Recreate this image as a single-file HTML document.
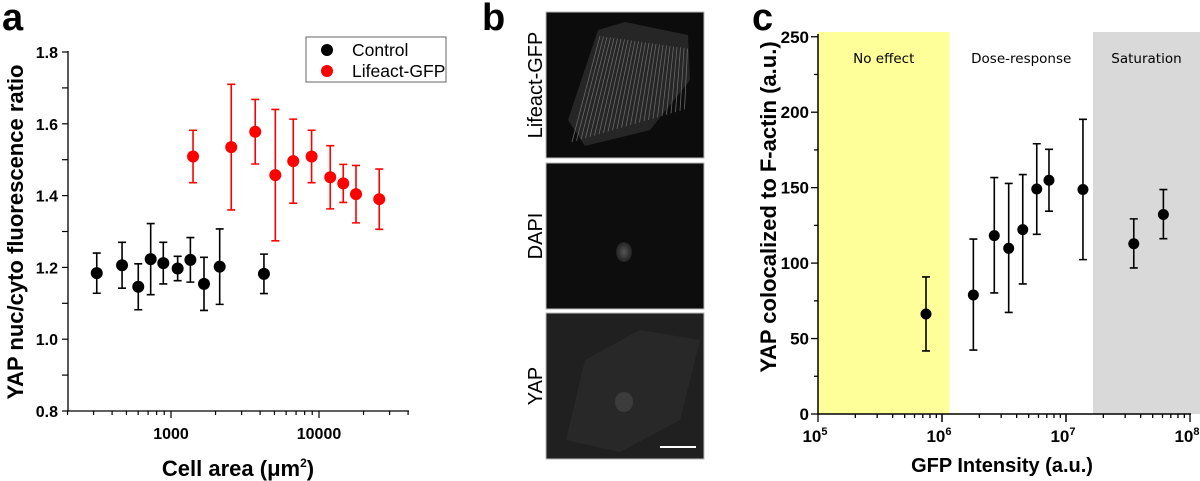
<!DOCTYPE html>
<html><head><meta charset="utf-8"><style>
body{margin:0;background:#fff;width:1200px;height:481px;overflow:hidden}
svg{display:block;font-family:"Liberation Sans",sans-serif}
</style></head><body>
<svg id="fig" width="1200" height="481">
<text x="2" y="30" font-size="38" font-weight="bold">a</text>
<text x="482" y="30" font-size="38" font-weight="bold">b</text>
<text x="752" y="30" font-size="38" font-weight="bold">c</text>
<g id="pa"></g>
<g id="pb">
 <defs><radialGradient id="nuc"><stop offset="0" stop-color="#555"/><stop offset="1" stop-color="#222"/></radialGradient></defs>
 <rect x="546" y="12" width="158" height="146" fill="#0c0c0c" stroke="#bbb"/>
 <polygon points="568,120 598,30 625,22 688,35 690,80 650,130 585,146" fill="#262626"/>
 <g id="fibers" stroke="#6a6a6a" stroke-width="0.8"></g>
 <rect x="546" y="163" width="158" height="146" fill="#0d0d0d" stroke="#bbb"/>
 <ellipse cx="624" cy="252" rx="8" ry="10" fill="url(#nuc)"/>
 <rect x="546" y="313" width="158" height="146" fill="#202020" stroke="#bbb"/>
 <polygon points="566,440 585,360 640,330 700,340 680,420 620,452" fill="#282828"/>
 <ellipse cx="624" cy="402" rx="9" ry="10" fill="#3c3c3c"/>
 <line x1="660" y1="447" x2="696" y2="447" stroke="#fff" stroke-width="2"/>
 <text transform="translate(542,85) rotate(-90)" text-anchor="middle" font-size="20">Lifeact-GFP</text>
 <text transform="translate(542,236) rotate(-90)" text-anchor="middle" font-size="20">DAPI</text>
 <text transform="translate(542,386) rotate(-90)" text-anchor="middle" font-size="20">YAP</text>
</g>
<g id="pc"></g>
</svg>
<script>
// Panel a data
const ctrlX=[315,467,601,729,887,1109,1352,1671,2133,4246];
const ctrlY=[1.184,1.206,1.146,1.223,1.212,1.197,1.221,1.154,1.202,1.182];
const ctrlErr=[0.056,0.064,0.064,0.099,0.058,0.034,0.062,0.074,0.105,0.055];
const lifeX=[1409,2553,3707,5069,6699,8913,11912,14584,17783,25527];
const lifeY=[1.509,1.535,1.578,1.457,1.496,1.509,1.451,1.434,1.404,1.390];
const lifeErr=[0.073,0.175,0.090,0.183,0.117,0.073,0.088,0.053,0.080,0.084];
const aYTicks=[0.8,1.0,1.2,1.4,1.6,1.8];
const aXTicks=[1000,10000];
// Panel c data
const gfpX=[7.43e5,1.79e6,2.64e6,3.45e6,4.48e6,5.81e6,7.29e6,1.37e7,3.52e7,6.1e7];
const yapY=[66.3,78.9,118.2,109.8,122.2,149.1,154.9,148.8,112.8,132.2];
const yapUp=[24.5,37,38.5,43,36.5,30,20.5,46.5,16.5,16.5];
const yapDn=[24.5,36.5,38,42.5,36,30,20.5,46.5,16,16];
const cYTicks=[0,50,100,150,200,250];
const cXExp=[5,6,7,8];
const regionEdges=[1e5,1.15e6,1.65e7,1.3e8];

const NS='http://www.w3.org/2000/svg';
function mk(p,t,a,txt){const e=document.createElementNS(NS,t);for(const k in a)e.setAttribute(k,a[k]);if(txt!==undefined)e.textContent=txt;p.appendChild(e);return e;}

// fibers (decoration)
const fb=document.getElementById('fibers');
for(let i=0;i<26;i++){const l=mk(fb,'line',{x1:572+i*4.5,y1:142-i*1.3,x2:600+i*3.5,y2:36+i*0.5});

}

// Panel a
const pa=document.getElementById('pa');
const ax=v=>171+(Math.log10(v)-3)*148;
const ay=v=>411-(v-0.8)*359;
mk(pa,'line',{x1:68,y1:ay(1.8)-1,x2:68,y2:411,stroke:'#000','stroke-width':1.3});
mk(pa,'line',{x1:68,y1:411,x2:409,y2:411,stroke:'#000','stroke-width':1.3});
for(let v=0.8;v<=1.801;v+=0.1){mk(pa,'line',{x1:62,y1:ay(v),x2:68,y2:ay(v),stroke:'#000','stroke-width':1.2});}
aYTicks.forEach(v=>{const t=mk(pa,'text',{x:58,y:ay(v)+6,'text-anchor':'end','font-size':16,'font-weight':'bold'},v.toFixed(1));

});
for(let d=2;d<=4;d++)for(let m=1;m<10;m++){const v=m*Math.pow(10,d);const x=ax(v);if(x<67||x>410)continue;
mk(pa,'line',{x1:x,y1:411,x2:x,y2:m==1?418:415,stroke:'#000','stroke-width':1.2});}
aXTicks.forEach(v=>{const t=mk(pa,'text',{x:ax(v),y:439,'text-anchor':'middle','font-size':16,'font-weight':'bold'},String(v));

});
const at=mk(pa,'text',{x:238,y:476,'text-anchor':'middle','font-size':22,'font-weight':'bold'});
at.innerHTML='Cell area (<tspan>μ</tspan>m<tspan dy="-9" font-size="12">2</tspan><tspan dy="9">)</tspan>';


const ayt=mk(pa,'text',{transform:'translate(23,232) rotate(-90)','text-anchor':'middle','font-size':22,'font-weight':'bold'},'YAP nuc/cyto fluorescence ratio');


function series(g,xs,ys,up,dn,col,fx,fy,nm,r,cap){xs.forEach((x,i)=>{const cx=fx(x),cy=fy(ys[i]),y1=fy(ys[i]+up[i]),y2=fy(ys[i]-dn[i]);
const e=mk(g,'path',{d:`M${cx},${y1}V${y2}M${cx-cap},${y1}H${cx+cap}M${cx-cap},${y2}H${cx+cap}`,stroke:col,'stroke-width':1.6,fill:'none'});


const c=mk(g,'circle',{cx:cx,cy:cy,r:r,fill:col});

});}
series(pa,ctrlX,ctrlY,ctrlErr,ctrlErr,'#000',ax,ay,'control',6,4);
series(pa,lifeX,lifeY,lifeErr,lifeErr,'#f00',ax,ay,'lifeact',6,4);
const lg=mk(pa,'g',{});


mk(lg,'rect',{x:306,y:37,width:140,height:45,fill:'#fff',stroke:'#666'});
mk(lg,'circle',{cx:327,cy:50,r:6,fill:'#000'});
mk(lg,'circle',{cx:327,cy:71,r:6,fill:'#f00'});
mk(lg,'text',{x:352,y:56,'font-size':17.5},'Control');
mk(lg,'text',{x:352,y:77,'font-size':17.5},'Lifeact-GFP');

// Panel c
const pc=document.getElementById('pc');
const cx_=v=>818+(Math.log10(v)-5)*124;
const cy_=v=>414-v*1.509;
const regCol=['#ffff99','#ffffff','#d9d9d9'];
const regNames=['No effect','Dose-response','Saturation'];
const regNm=['no-effect-region','dose-response-region','saturation-region'];
regCol.forEach((c,i)=>{const x1=cx_(regionEdges[i]),x2=Math.min(1200,cx_(regionEdges[i+1]));
const r=mk(pc,'rect',{x:x1,y:32,width:x2-x1,height:414-32,fill:c});


const t=mk(pc,'text',{x:(x1+x2)/2,y:63,'text-anchor':'middle','font-size':13.5,'font-family':'DejaVu Sans'},regNames[i]);

});
mk(pc,'line',{x1:818,y1:34,x2:818,y2:414,stroke:'#000','stroke-width':1.5});
mk(pc,'line',{x1:818,y1:414,x2:1191,y2:414,stroke:'#000','stroke-width':1.5});
for(let v=0;v<=250;v+=25)mk(pc,'line',{x1:v%50?814:811,y1:cy_(v),x2:818,y2:cy_(v),stroke:'#000','stroke-width':1.3});
cYTicks.forEach(v=>{const t=mk(pc,'text',{x:809,y:cy_(v)+6,'text-anchor':'end','font-size':17,'font-weight':'bold'},String(v));

});
for(let d=5;d<8;d++)for(let m=1;m<=10;m++){const x=cx_(m*Math.pow(10,d));mk(pc,'line',{x1:x,y1:414,x2:x,y2:(m==1||m==10)?422:418,stroke:'#000','stroke-width':1.3});}
cXExp.forEach(e=>{const t=mk(pc,'text',{x:cx_(Math.pow(10,e))-3,y:442,'text-anchor':'middle','font-size':17,'font-weight':'bold'});
t.innerHTML='10<tspan dy="-7" font-size="11">'+e+'</tspan>';

});
const ct=mk(pc,'text',{x:1002,y:472,'text-anchor':'middle','font-size':20,'font-weight':'bold'},'GFP Intensity (a.u.)');


const cyt=mk(pc,'text',{transform:'translate(776,207) rotate(-90)','text-anchor':'middle','font-size':22,'font-weight':'bold'},'YAP colocalized to F-actin (a.u.)');


series(pc,gfpX,yapY,yapUp,yapDn,'#000',cx_,cy_,'yap',5.5,4);
</script>
</body></html>
